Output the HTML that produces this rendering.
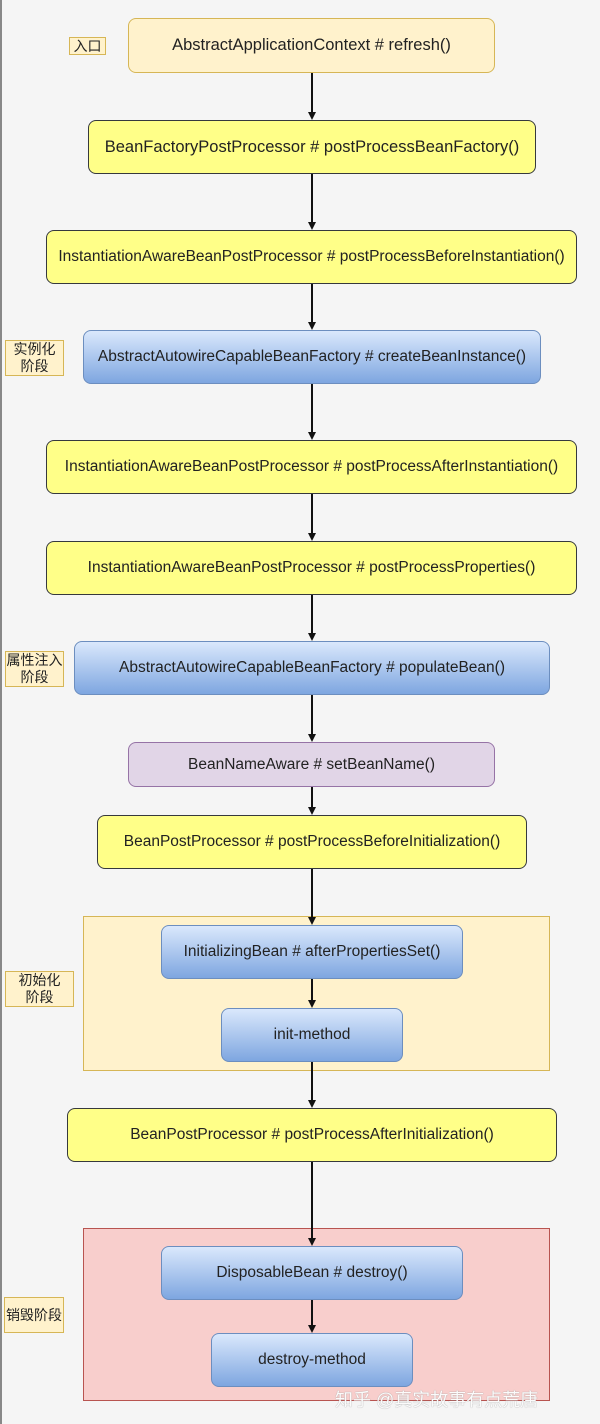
<!DOCTYPE html>
<html><head><meta charset="utf-8"><style>
*{margin:0;padding:0;box-sizing:border-box}
body{width:600px;height:1424px;background:#f5f5f5;position:relative;overflow:hidden;font-family:"Liberation Sans","Noto Sans CJK SC",sans-serif;color:#222}
.edge{position:absolute;left:0;top:0;width:2px;height:1424px;background:#888}
.b{position:absolute;display:flex;align-items:center;justify-content:center;text-align:center;font-size:16px;white-space:nowrap;border-radius:8px;border:1px solid #36393d}
.y{background:#ffff88}
.o{background:#fff2cc;border-color:#d6b656}
.bl{background:linear-gradient(#dae8fc,#7ea6e0);border-color:#6c8ebf}
.p{background:#e1d5e7;border-color:#9673a6}
.c{position:absolute}
.l{position:absolute;background:#fff2cc;border:1px solid #d6b656;font-size:14px;display:flex;align-items:center;justify-content:center;text-align:center;line-height:17px}
.v{position:absolute;left:311px;width:1.5px;background:#111}
.ah{position:absolute;left:308px;width:0;height:0;border-left:4px solid transparent;border-right:4px solid transparent;border-top:8px solid #111}
</style></head><body>
<div class="edge"></div>
<div class="c" style="left:83px;top:916px;width:467px;height:155px;background:#fff2cc;border:1px solid #d6b656"></div>
<div class="c" style="left:83px;top:1228px;width:467px;height:173px;background:#f8cecc;border:1px solid #b85450"></div>

<div class="b o" style="left:128px;top:18px;width:367px;height:55px;font-size:16.5px">AbstractApplicationContext # refresh()</div>
<div class="b y" style="left:88px;top:120px;width:448px;height:54px;font-size:16.5px">BeanFactoryPostProcessor # postProcessBeanFactory()</div>
<div class="b y" style="left:46px;top:230px;width:531px;height:54px;font-size:15.5px">InstantiationAwareBeanPostProcessor # postProcessBeforeInstantiation()</div>
<div class="b bl" style="left:83px;top:330px;width:458px;height:54px;font-size:15.5px">AbstractAutowireCapableBeanFactory # createBeanInstance()</div>
<div class="b y" style="left:46px;top:440px;width:531px;height:54px;font-size:15.5px">InstantiationAwareBeanPostProcessor # postProcessAfterInstantiation()</div>
<div class="b y" style="left:46px;top:541px;width:531px;height:54px;font-size:15.5px">InstantiationAwareBeanPostProcessor # postProcessProperties()</div>
<div class="b bl" style="left:74px;top:641px;width:476px;height:54px;font-size:15.5px">AbstractAutowireCapableBeanFactory # populateBean()</div>
<div class="b p" style="left:128px;top:742px;width:367px;height:45px;font-size:15.5px">BeanNameAware # setBeanName()</div>
<div class="b y" style="left:97px;top:815px;width:430px;height:54px;font-size:15.5px">BeanPostProcessor # postProcessBeforeInitialization()</div>
<div class="b bl" style="left:161px;top:925px;width:302px;height:54px;font-size:15.5px">InitializingBean # afterPropertiesSet()</div>
<div class="b bl" style="left:221px;top:1008px;width:182px;height:54px;font-size:15.5px">init-method</div>
<div class="b y" style="left:67px;top:1108px;width:490px;height:54px;font-size:15.5px">BeanPostProcessor # postProcessAfterInitialization()</div>
<div class="b bl" style="left:161px;top:1246px;width:302px;height:54px;font-size:15.5px">DisposableBean # destroy()</div>
<div class="b bl" style="left:211px;top:1333px;width:202px;height:54px;font-size:15.5px">destroy-method</div>

<div class="l" style="left:69px;top:37px;width:37px;height:18px">入口</div>
<div class="l" style="left:5px;top:340px;width:59px;height:36px">实例化<br>阶段</div>
<div class="l" style="left:5px;top:651px;width:59px;height:36px">属性注入<br>阶段</div>
<div class="l" style="left:5px;top:971px;width:69px;height:36px">初始化<br>阶段</div>
<div class="l" style="left:4px;top:1297px;width:60px;height:36px">销毁阶段</div>

<div class="v" style="top:73px;height:40px"></div><div class="ah" style="top:112px"></div>
<div class="v" style="top:174px;height:49px"></div><div class="ah" style="top:222px"></div>
<div class="v" style="top:284px;height:39px"></div><div class="ah" style="top:322px"></div>
<div class="v" style="top:384px;height:49px"></div><div class="ah" style="top:432px"></div>
<div class="v" style="top:494px;height:40px"></div><div class="ah" style="top:533px"></div>
<div class="v" style="top:595px;height:39px"></div><div class="ah" style="top:633px"></div>
<div class="v" style="top:695px;height:40px"></div><div class="ah" style="top:734px"></div>
<div class="v" style="top:787px;height:21px"></div><div class="ah" style="top:807px"></div>
<div class="v" style="top:869px;height:49px"></div><div class="ah" style="top:917px"></div>
<div class="v" style="top:979px;height:22px"></div><div class="ah" style="top:1000px"></div>
<div class="v" style="top:1062px;height:39px"></div><div class="ah" style="top:1100px"></div>
<div class="v" style="top:1162px;height:77px"></div><div class="ah" style="top:1238px"></div>
<div class="v" style="top:1300px;height:26px"></div><div class="ah" style="top:1325px"></div>

<div style="position:absolute;left:335px;top:1386px;font-size:18px;color:#fbfbfb;text-shadow:0 0 1px #888">知乎 @真实故事有点荒唐</div>
</body></html>
